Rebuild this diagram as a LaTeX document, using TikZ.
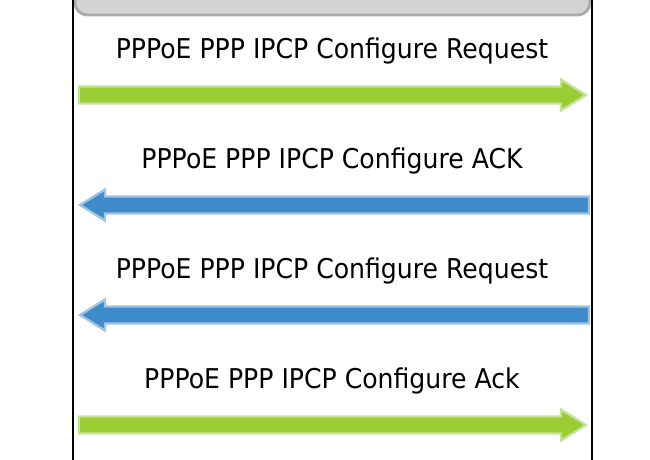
\documentclass[tikz,border=0pt]{standalone}
\usepackage{fontspec}
\setmainfont[FakeStretch=0.923]{DejaVu Sans}
\usepackage{xcolor}

\definecolor{reqgreen}{HTML}{9ACD32}
\definecolor{reqgreenedge}{HTML}{C5E29B}
\definecolor{ackblue}{HTML}{3F8BC9}
\definecolor{ackblueedge}{HTML}{9DC3E6}
\definecolor{barfill}{HTML}{D3D3D3}
\definecolor{baredge}{HTML}{ABABAB}

\begin{document}
\begin{tikzpicture}[x=0.02cm,y=-0.02cm,
    msg/.style={anchor=base, inner sep=0pt, font=\fontsize{15.5}{18}\selectfont}]
            \def\toright#1{(79,#1-8.5) -- (561,#1-8.5) -- (561,#1-15.5) -- (586,#1)
                -- (561,#1+15.5) -- (561,#1+8.5) -- (79,#1+8.5) -- cycle}
            \def\toleft#1{(589,#1-8.5) -- (105,#1-8.5) -- (105,#1-15.5) -- (80,#1)
                -- (105,#1+15.5) -- (105,#1+8.5) -- (589,#1+8.5) -- cycle}

            \clip (0,0) rectangle (650,460);

            % bar of the session box
            \draw[fill=barfill, draw=baredge, line width=1.6pt, rounded corners=7pt]
                (75,-30) rectangle (590,15);

            % the two ends
            \draw[line width=1.2pt] (73,0) -- (73,460);
            \draw[line width=1.2pt] (592,0) -- (592,460);

            \filldraw[fill=reqgreen, draw=reqgreenedge, line width=1.3pt] \toright{95};
            \filldraw[fill=ackblue, draw=ackblueedge, line width=1.3pt] \toleft{205};
            \filldraw[fill=ackblue, draw=ackblueedge, line width=1.3pt] \toleft{315};
            \filldraw[fill=reqgreen, draw=reqgreenedge, line width=1.3pt] \toright{425};

            \node[msg] (req1) at (332,58) {PPPoE PPP IPCP Configure Request};
            \node[msg] (ack1) at (332,168) {PPPoE PPP IPCP Configure ACK};
            \node[msg] (req2) at (332,278) {PPPoE PPP IPCP Configure Request};
            \node[msg] (ack2) at (332,388) {PPPoE PPP IPCP Configure Ack};
        \end{tikzpicture}
\end{document}
